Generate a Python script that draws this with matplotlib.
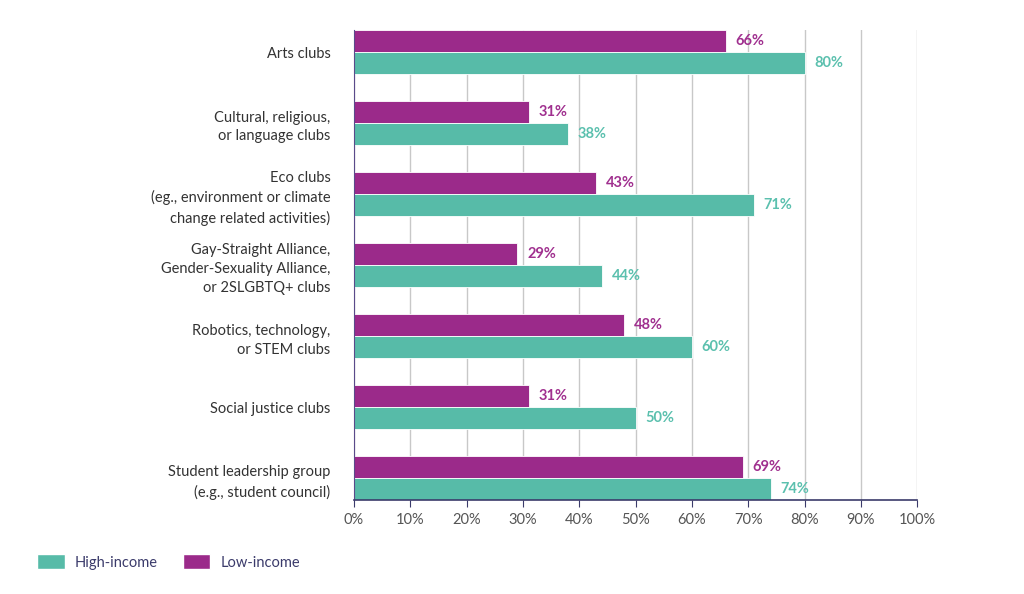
import numpy as np
import matplotlib.pyplot as plt
from matplotlib.patches import Patch

plt.rcParams['font.family'] = ['Lato', 'DejaVu Sans']

# Data
categories = [
    "Arts clubs",
    "Cultural, religious,\nor language clubs",
    "Eco clubs\n(eg., environment or climate\nchange related activities)",
    "Gay-Straight Alliance,\nGender-Sexuality Alliance,\nor 2SLGBTQ+ clubs",
    "Robotics, technology,\nor STEM clubs",
    "Social justice clubs",
    "Student leadership group\n(e.g., student council)",
]
low_income = [66, 31, 43, 29, 48, 31, 69]
high_income = [80, 38, 71, 44, 60, 50, 74]
xticks = [0, 10, 20, 30, 40, 50, 60, 70, 80, 90, 100]

TEAL = "#57BBA8"
PURPLE = "#9B2A8A"
TEAL_TXT = "#5BC0AE"
PURPLE_TXT = "#A0308F"
NAVY = "#3B3B6B"

fig = plt.figure(figsize=(10.24, 5.94), dpi=100)
ax = fig.add_axes([0.3457, 0.158, 0.55, 0.7915])

y = np.arange(len(categories))
h = 0.31
ax.barh(y - h / 2, low_income, height=h, color=PURPLE, edgecolor="white", linewidth=0.6, zorder=3)
ax.barh(y + h / 2, high_income, height=h, color=TEAL, edgecolor="white", linewidth=0.6, zorder=3)

for yi, v in zip(y, low_income):
    ax.annotate(f"{v}%", (v, yi - h / 2), xytext=(7, 0), textcoords="offset points",
                va="center", ha="left", color=PURPLE_TXT, fontsize=10.5, fontweight="bold")
for yi, v in zip(y, high_income):
    ax.annotate(f"{v}%", (v, yi + h / 2), xytext=(7, 0), textcoords="offset points",
                va="center", ha="left", color=TEAL_TXT, fontsize=10.5, fontweight="bold")

ax.set_xlim(0, 100)
ax.set_ylim(len(categories) - 1 + h, -h)
ax.set_xticks(xticks)
ax.set_xticklabels([f"{t}%" for t in xticks], color="#555555", fontsize=10.5)
ax.set_yticks(y)
ax.set_yticklabels(categories, color="#333333", fontsize=10.5, linespacing=1.45)
ax.tick_params(axis="y", length=0, pad=17)
ax.tick_params(axis="x", length=5, color=NAVY, pad=4)

ax.xaxis.grid(True, color="#C8C8C8", linewidth=1, zorder=0)
ax.set_axisbelow(True)
for s in ["top", "right"]:
    ax.spines[s].set_visible(False)
ax.spines["left"].set_color("#5A4A8A")
ax.spines["left"].set_zorder(5)
ax.spines["bottom"].set_color(NAVY)
ax.spines["bottom"].set_linewidth(1.2)
ax.spines["bottom"].set_zorder(5)

handles = [Patch(facecolor=TEAL, edgecolor="white"), Patch(facecolor=PURPLE, edgecolor="white")]
fig.legend(handles, ["High-income", "Low-income"], loc="center left",
           bbox_to_anchor=(0.026, 0.054), ncol=2, frameon=False, fontsize=10.5,
           handlelength=1.9, handleheight=1.15, columnspacing=1.7, handletextpad=0.7,
           labelcolor=NAVY, borderpad=0.2)

fig.savefig("out.png", dpi=100)
